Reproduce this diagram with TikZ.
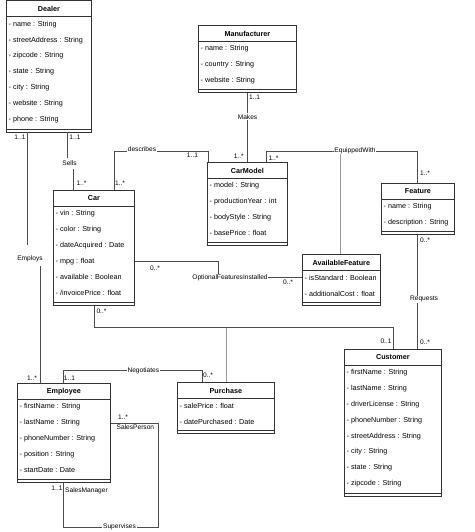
\documentclass[tikz,border=0pt]{standalone}
\usepackage{fontspec}
\setmainfont{Liberation Sans}
\usetikzlibrary{calc}
\newcommand\umlclass[7]{%
  \node[frame, minimum width=#4, minimum height={19+16*#5}] (#1) at (#2,#3) {};
  \node[ttl] (#1-title) at ($(#1.north)+(0,8.5)$) {#6};
  \draw[sepline] ($(#1.north west)+(0,16)$) -- ($(#1.north east)+(0,16)$);
  \draw[sepline] ($(#1.south west)+(0,-3)$) -- ($(#1.south east)+(0,-3)$);
  \foreach \a [count=\i] in {#7} {
    \node[attr] (#1-a\i) at ($(#1.north west)+(2.5,{24+15.8*(\i-1)})$) {\a};
  }%
}
\begin{document}
\begin{tikzpicture}[x=1pt,y=-1pt,
  frame/.style={draw=black!80, line width=0.7pt, inner sep=0pt, anchor=north west, fill=white},
  sepline/.style={draw=black!80, line width=0.6pt},
  ttl/.style={font=\fontsize{7.2}{8}\selectfont\bfseries, inner sep=0pt},
  attr/.style={font=\fontsize{7.2}{8}\selectfont, inner sep=0pt, anchor=west},
  assoc/.style={draw=black!70, line width=0.6pt},
  aclass/.style={draw=black!40, line width=0.6pt},
  elabel/.style={font=\fontsize{6.6}{7}\selectfont, inner sep=0.8pt, fill=white},
  mult/.style={font=\fontsize{6.6}{7}\selectfont, inner sep=0pt}]
\fill[white] (0,0) rectangle (474,532);
\useasboundingbox (0,0) rectangle (474,532);

% classes
\umlclass{dealer}{6}{0.5}{85}{7}{Dealer}{{- name : String},{- streetAddress : String},{- zipcode : String},{- state : String},{- city : String},{- website : String},{- phone : String}}
\umlclass{manu}{198}{25}{98}{3}{Manufacturer}{{- name : String},{- country : String},{- website : String}}
\umlclass{carmodel}{207}{162}{80}{4}{CarModel}{{- model : String},{- productionYear : int},{- bodyStyle : String},{- basePrice : float}}
\umlclass{feature}{381}{183}{73}{2}{Feature}{{- name : String},{- description : String}}
\umlclass{car}{53}{190}{81}{6}{Car}{{- vin : String},{- color : String},{- dateAcquired : Date},{- mpg : float},{- available : Boolean},{- /invoicePrice : float}}
\umlclass{af}{302}{254}{78}{2}{AvailableFeature}{{- isStandard : Boolean},{- additionalCost : float}}
\umlclass{customer}{344}{349}{97}{8}{Customer}{{- firstName : String},{- lastName : String},{- driverLicense : String},{- phoneNumber : String},{- streetAddress : String},{- city : String},{- state : String},{- zipcode : String}}
\umlclass{employee}{17}{383}{93}{5}{Employee}{{- firstName : String},{- lastName : String},{- phoneNumber : String},{- position : String},{- startDate : Date}}
\umlclass{purchase}{177}{382}{97}{2}{Purchase}{{- salePrice : float},{- datePurchased : Date}}

% association-class links
\coordinate (ewmid) at (340,151);
\coordinate (ccmid) at (226,327);
\draw[aclass] (ewmid) -- (340,0 |- af.north);
\draw[aclass] (ccmid) -- (226,0 |- purchase.north);

% associations
\draw[assoc] (27,0 |- dealer.south) -- (27,252) -- (40,252) -- (40,0 |- employee.north);
\node[elabel, anchor=base, text height=14pt, text depth=5pt] (employs) at (30,260) {Employs};

\draw[assoc] (67,0 |- dealer.south) -- (67,162) -- (73,162) -- (73,0 |- car.north)
  node[elabel, minimum height=11pt] (sells) at (69.5,163.3) {Sells};

\draw[assoc] (114,0 |- car.north) -- (114,151) -- (208,151) -- (208,0 |- carmodel.north)
  node[elabel] (describes) at (142,149.5) {describes};

\draw[assoc] (247,0 |- manu.south) -- (247,0 |- carmodel.north)
  node[elabel] (makes) at (247.5,116.7) {Makes};

\draw[assoc] (266,0 |- carmodel.north) -- (266,151) -- (417,151) -- (417,0 |- feature.north)
  node[elabel] (equipped) at (355,150.5) {EquippedWith};

\draw[assoc] (417,0 |- feature.south) -- (417,0 |- customer.north)
  node[elabel] (requests) at (424,299.3) {Requests};

\draw[assoc] (car.east |- 0,261) -- (218,261) -- (218,277) -- (af.west |- 0,277)
  node[elabel] (ofi) at (230,277.7) {OptionalFeaturesInstalled};

\draw[assoc] (94,0 |- car.south) -- (94,327) -- (393,327) -- (393,0 |- customer.north);

\draw[assoc] (63,0 |- employee.north) -- (63,370) -- (202,370) -- (202,0 |- purchase.north)
  node[elabel] (negotiates) at (143.3,370.5) {Negotiates};

\draw[assoc] (63,0 |- employee.south) -- (63,527) -- (158,527) -- (158,423) -- (employee.east |- 0,423)
  node[elabel] (supervises) at (119.5,527) {Supervises};

% multiplicities and roles
\node[mult] (m1) at (20,137) {1..1};
\node[mult] (m2) at (75,137) {1..1};
\node[mult] (m3) at (81.5,183.3) {1..*};
\node[mult] (m4) at (120,183.3) {1..*};
\node[mult] (m5) at (192.5,155.7) {1..1};
\node[mult] (m6) at (254.5,97.7) {1..1};
\node[mult] (m7) at (238.7,156.7) {1..*};
\node[mult] (m8) at (273.5,158) {1..*};
\node[mult] (m9) at (425,173.3) {1..*};
\node[mult] (m10) at (425,240) {0..*};
\node[mult] (m11) at (425,342.7) {0..*};
\node[mult] (m12) at (386,341.7) {0..1};
\node[mult] (m13) at (101.5,311.7) {0..*};
\node[mult] (m14) at (155,268.7) {0..*};
\node[mult] (m15) at (288,282.7) {0..*};
\node[mult] (m16) at (32,378.3) {1..*};
\node[mult] (m17) at (69.5,378.3) {1..1};
\node[mult] (m18) at (208,375) {0..*};
\node[mult] (m19) at (57,488.7) {1..1};
\node[mult, anchor=west] (r1) at (65,490.7) {SalesManager};
\node[mult] (m20) at (123,417.7) {1..*};
\node[mult, anchor=west] (r2) at (116.5,426.7) {SalesPerson};
\end{tikzpicture}
\end{document}
